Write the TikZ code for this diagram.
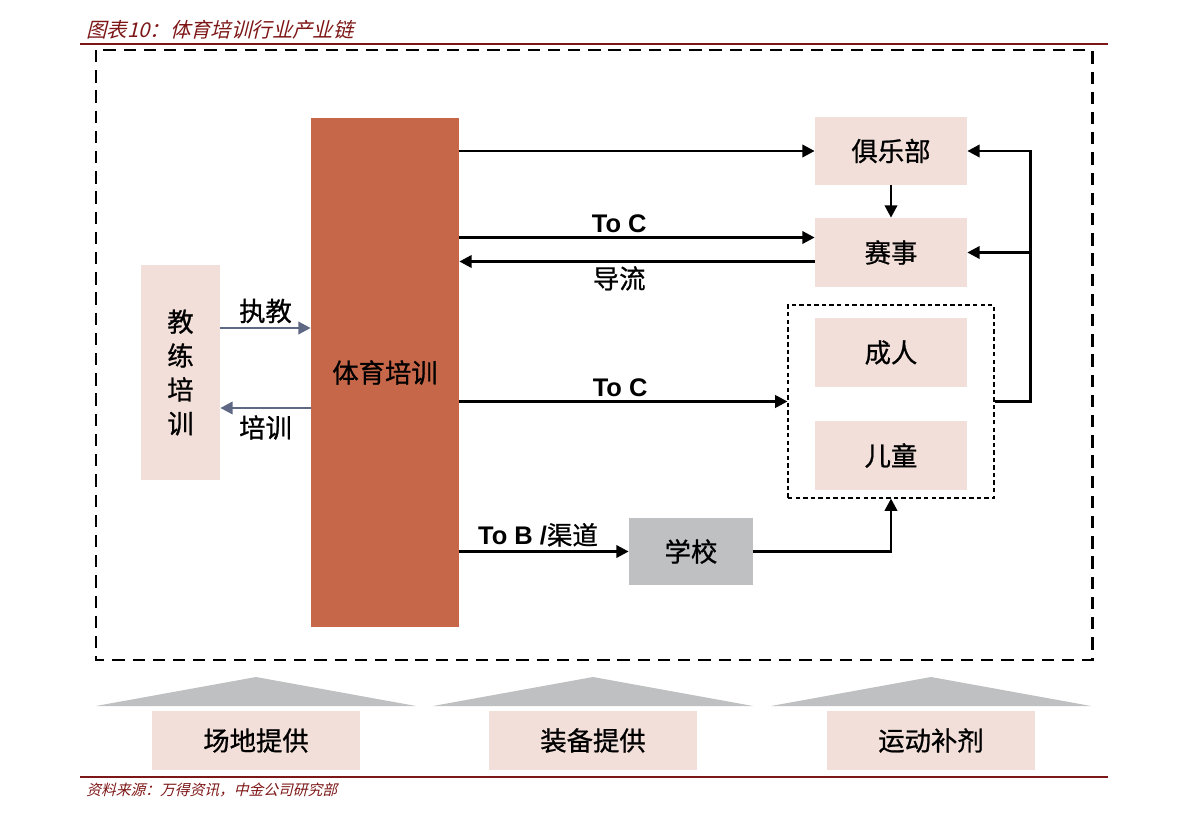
\documentclass[tikz,border=0pt]{standalone}
\usepackage{fontspec}
\setmainfont{Liberation Sans}
\newfontfamily\cjk[FakeBold=0.8]{Noto Sans CJK SC}
\newfontfamily\cjkit[FakeSlant=0.25]{Noto Sans CJK SC}
\usepackage{xcolor}
\usetikzlibrary{arrows.meta, positioning}

\definecolor{mainred}{RGB}{199,103,74}
\definecolor{boxpink}{RGB}{242,223,217}
\definecolor{boxgray}{RGB}{190,192,194}
\definecolor{darkred}{RGB}{125,22,22}
\definecolor{linkblue}{RGB}{94,104,132}

\tikzset{
    pinkbox/.style={fill=boxpink, inner sep=0pt, font=\cjk\fontsize{15}{18}\selectfont},
    flow/.style={line width=1.5pt, -{Triangle[length=7pt, width=7pt]}},
    coachflow/.style={flow, draw=linkblue},
    lbl/.style={font=\cjk\fontsize{15}{18}\selectfont, inner sep=2pt},
    tolbl/.style={font=\bfseries\fontsize{14.5}{17}\selectfont, inner sep=2pt}
}

\begin{document}
\begin{tikzpicture}[x=0.02cm, y=-0.02cm]
        \useasboundingbox (0,0) rectangle (1191,818);

        % Title and rules
        \node[anchor=west, text=darkred, font=\cjkit\fontsize{11.6}{13}\selectfont, inner sep=0pt] (title) at (86,30) {图表10：体育培训行业产业链};
        \draw[darkred, line width=0.8pt] (80,44) -- (1108,44);
        \draw[darkred, line width=0.8pt] (80,777) -- (1108,777);
        \node[anchor=west, text=darkred, font=\cjkit\fontsize{8.4}{10}\selectfont, inner sep=0pt] (source) at (86,790) {资料来源：万得资讯，中金公司研究部};

        % Outer frame
        \draw[line width=1.7pt, dash pattern=on 7pt off 4.5pt] (96,50) rectangle (1092,660);

        % Main nodes
        \node[fill=mainred, inner sep=0pt, minimum width=2.96cm, minimum height=10.18cm,
              font=\cjk\fontsize{15}{18}\selectfont] (train) at (385,372.5) {体育培训};
        \node[pinkbox, minimum width=1.58cm, minimum height=4.3cm, align=center,
              font=\cjk\fontsize{15}{19.3}\selectfont] (coach) at (180.5,372.5) {教\\练\\培\\训};

        \node[pinkbox, minimum width=3.04cm, minimum height=1.36cm] (club) at (891,151) {俱乐部};
        \node[pinkbox, minimum width=3.04cm, minimum height=1.38cm] (event) at (891,252.5) {赛事};
        \node[pinkbox, minimum width=3.04cm, minimum height=1.38cm] (adult) at (891,352.5) {成人};
        \node[pinkbox, minimum width=3.04cm, minimum height=1.38cm] (child) at (891,455.5) {儿童};
        \node[draw, line width=0.6pt, dash pattern=on 2.5pt off 1.8pt, inner sep=0pt,
              minimum width=4.12cm, minimum height=3.86cm] (group) at (891,401.5) {};
        \node[pinkbox, fill=boxgray, minimum width=2.48cm, minimum height=1.34cm] (school) at (691,551.5) {学校};

        % Coach links
        \draw[coachflow] ([yshift=0.89cm]coach.east) -- ([yshift=0.89cm]coach.east -| train.west)
            node[lbl, midway, above] {执教};
        \draw[coachflow] ([yshift=-0.71cm]coach.east -| train.west) -- ([yshift=-0.71cm]coach.east)
            node[lbl, midway, below, yshift=-0.05cm] {培训};

        % Links to the right
        \draw[flow] (train.east |- club.west) -- (club.west);
        \draw[flow] ([yshift=0.3cm]event.west -| train.east) -- ([yshift=0.3cm]event.west)
            node[tolbl, pos=0.45, above] {To C};
        \draw[flow] ([yshift=-0.18cm]event.west) -- ([yshift=-0.18cm]event.west -| train.east)
            node[lbl, pos=0.55, below] {导流};
        \draw[flow] (train.east |- group.west) -- (group.west)
            node[tolbl, pos=0.49, above] {To C};
        \draw[flow] (train.east |- school.west) -- (school.west)
            node[tolbl, midway, above, xshift=-0.12cm] {To B /{\cjk\mdseries 渠道}};
        \draw[flow] (club.south) -- (event.north);
        \draw[flow] (school.east) -| (group.south);

        % Feedback loop
        \coordinate (fb) at ([xshift=0.72cm]group.east);
        \draw[flow] (group.east) -- (fb) |- (club.east);
        \draw[flow] (fb |- event.east) -- (event.east);

        % Support row
        \foreach \x/\name/\txt in {256/site/场地提供, 593/gear/装备提供, 931/supp/运动补剂} {
            \fill[boxgray] (\x-160,706) -- (\x,677) -- (\x+160,706) -- cycle;
            \node[pinkbox, minimum width=4.18cm, minimum height=1.18cm] (\name) at (\x,740.5) {\txt};
        }
    \end{tikzpicture}
\end{document}
